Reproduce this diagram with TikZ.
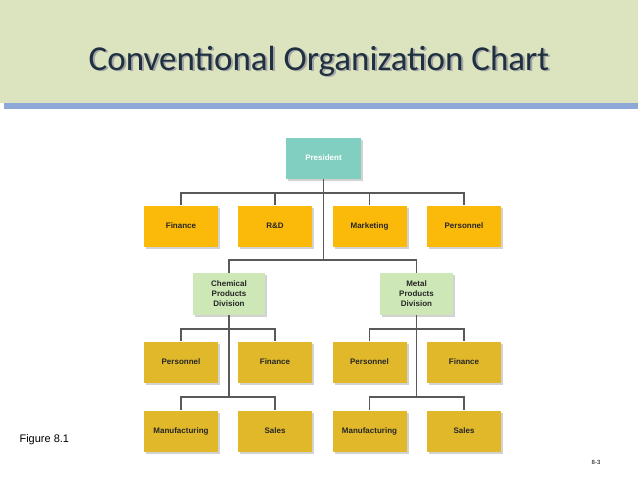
\documentclass[tikz,border=0pt]{standalone}
\usepackage{fontspec}
\setmainfont{Liberation Sans}
\newfontfamily\titlefont{Carlito}
\usetikzlibrary{shadows}
\definecolor{band}{HTML}{DCE4BF}
\definecolor{bline}{HTML}{8EA9D8}
\definecolor{pres}{HTML}{80CFC0}
\definecolor{orng}{HTML}{FBBA0A}
\definecolor{grn}{HTML}{CDE8B6}
\definecolor{gold}{HTML}{E0B82A}
\definecolor{ttl}{HTML}{1F3040}
\tikzset{
 box/.style={minimum width=74pt,minimum height=41pt,align=center,text height=6pt,text depth=1.7pt,font=\fontsize{8}{10}\selectfont\bfseries,text=black!85,drop shadow={shadow xshift=2pt,shadow yshift=-2pt,fill=black!35}},
 con/.style={draw=black!65,line width=1.6pt},
 ttext/.style={font=\titlefont\fontsize{35}{40}\selectfont},
}
\begin{document}
\begin{tikzpicture}[x=1pt,y=-1pt]
\useasboundingbox (0,0) rectangle (638,479);
\fill[band] (0,0) rectangle (638,103);
\fill[bline] (4,103) rectangle (638,109);
\node[ttext,text=black!35] (tsh) at (321,62.5) {Conventional Organization Chart};
\node[ttext,text=ttl] (t) at (319,61) {Conventional Organization Chart};
% nodes
\node[box,fill=pres,text=white,minimum width=75pt] (p) at (323.5,158.5) {President};
\node[box,fill=orng] (f) at (181,226) {Finance};
\node[box,fill=orng] (rd) at (275,226) {R\&D};
\node[box,fill=orng] (m) at (369.5,226) {Marketing};
\node[box,fill=orng] (pe) at (464,226) {Personnel};
\node[box,fill=grn,minimum width=72pt,minimum height=42pt,text height=,text depth=] (c) at (229,294) {Chemical\\Products\\Division};
\node[box,fill=grn,minimum width=73pt,minimum height=42pt,text height=,text depth=] (me) at (416.5,294) {Metal\\Products\\Division};
\node[box,fill=gold] (cp) at (181,362) {Personnel};
\node[box,fill=gold] (cf) at (275,362) {Finance};
\node[box,fill=gold] (mp) at (369.5,362) {Personnel};
\node[box,fill=gold] (mf) at (464,362) {Finance};
\node[box,fill=gold] (cm) at (181,431) {Manufacturing};
\node[box,fill=gold] (cs) at (275,431) {Sales};
\node[box,fill=gold] (mm) at (369.5,431) {Manufacturing};
\node[box,fill=gold] (ms) at (464,431) {Sales};
% connectors
\coordinate (b1) at (323.5,193);
\coordinate (b2) at (323.5,260);
\draw[con] (p.south) -- (b2);
\draw[con] (f.north) |- (b1) -| (pe.north);
\draw[con] (rd.north) |- (b1) -| (m.north);
\draw[con] (c.north) |- (b2) -| (me.north);
\coordinate (c1) at (229,329); \coordinate (c2) at (229,397);
\coordinate (m1) at (416.5,329); \coordinate (m2) at (416.5,397);
\draw[con] (c.south) -- (c2);
\draw[con] (cp.north) |- (c1) -| (cf.north);
\draw[con] (cm.north) |- (c2) -| (cs.north);
\draw[con] (me.south) -- (m2);
\draw[con] (mp.north) |- (m1) -| (mf.north);
\draw[con] (mm.north) |- (m2) -| (ms.north);
\node[anchor=west,font=\fontsize{11}{13}\selectfont] (fig) at (16,440) {Figure 8.1};
\node[font=\fontsize{6}{7}\selectfont] (pg) at (596,462) {8-3};
\end{tikzpicture}
\end{document}
